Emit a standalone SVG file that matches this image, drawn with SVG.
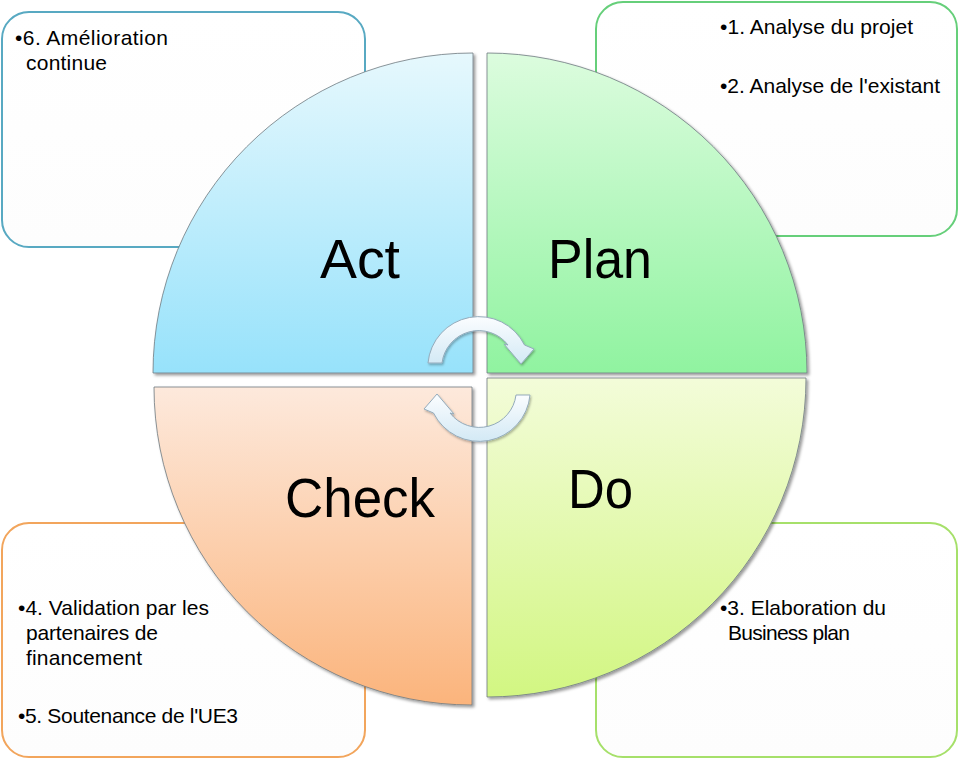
<svg xmlns="http://www.w3.org/2000/svg" width="959" height="759" viewBox="0 0 959 759">
  <defs>
    <linearGradient id="gAct" x1="0" y1="0" x2="0" y2="1">
      <stop offset="0" stop-color="#e6f8fd"/>
      <stop offset="1" stop-color="#97e2fb"/>
    </linearGradient>
    <linearGradient id="gPlan" x1="0" y1="0" x2="0" y2="1">
      <stop offset="0" stop-color="#dcfcde"/>
      <stop offset="1" stop-color="#90f3a0"/>
    </linearGradient>
    <linearGradient id="gDo" x1="0" y1="0" x2="0" y2="1">
      <stop offset="0" stop-color="#f3fcd9"/>
      <stop offset="1" stop-color="#d2f682"/>
    </linearGradient>
    <linearGradient id="gCheck" x1="0" y1="0" x2="0" y2="1">
      <stop offset="0" stop-color="#fde9dc"/>
      <stop offset="1" stop-color="#fbb47c"/>
    </linearGradient>
    <linearGradient id="gBox" x1="0" y1="0" x2="0" y2="1">
      <stop offset="0" stop-color="#ffffff"/>
      <stop offset="1" stop-color="#fdfdfd"/>
    </linearGradient>
    <linearGradient id="gArrow" x1="0" y1="0" x2="0" y2="1">
      <stop offset="0" stop-color="#fbfdff"/>
      <stop offset="1" stop-color="#d3e9f5"/>
    </linearGradient>
    <filter id="shadow" x="-10%" y="-10%" width="120%" height="120%">
      <feDropShadow dx="2" dy="2" stdDeviation="1.6" flood-color="#000" flood-opacity="0.4"/>
    </filter>
    <filter id="ashadow" x="-20%" y="-20%" width="140%" height="140%">
      <feDropShadow dx="1" dy="1.5" stdDeviation="1.2" flood-color="#000" flood-opacity="0.3"/>
    </filter>
  </defs>
  <style>
    .box { fill: url(#gBox); stroke-width: 2; }
    .sector { stroke: #6f7a80; stroke-width: 0.8; filter: url(#shadow); }
    .big { font-family: "Liberation Sans", Arial, sans-serif; font-size: 55px; fill: #000; }
    .txt { font-family: "Liberation Sans", Arial, sans-serif; font-size: 21px; fill: #000; }
    .arrow { fill: url(#gArrow); stroke: #94abbb; stroke-width: 1; filter: url(#ashadow); }
  </style>
  <rect width="959" height="759" fill="#ffffff"/>

  <g id="box-act">
    <rect class="box" x="2" y="12" width="363" height="235" rx="27" stroke="#58a9c2"/>
    <text class="txt" x="15" y="45" textLength="153">•6. Amélioration</text>
    <text class="txt" x="26" y="70" textLength="81">continue</text>
  </g>
  <g id="box-plan">
    <rect class="box" x="596" y="2" width="361" height="234" rx="27" stroke="#66cf7a"/>
    <text class="txt" x="720" y="34" textLength="193">•1. Analyse du projet</text>
    <text class="txt" x="720" y="93" textLength="220">•2. Analyse de l'existant</text>
  </g>
  <g id="box-check">
    <rect class="box" x="2" y="523" width="363" height="234" rx="27" stroke="#f2a55c"/>
    <text class="txt" x="18" y="615" textLength="191">•4. Validation par les</text>
    <text class="txt" x="26" y="640" textLength="132">partenaires de</text>
    <text class="txt" x="26" y="665" textLength="116">financement</text>
    <text class="txt" x="18" y="723" textLength="220">•5. Soutenance de l'UE3</text>
  </g>
  <g id="box-do">
    <rect class="box" x="596" y="523" width="361" height="234" rx="27" stroke="#a6e06a"/>
    <text class="txt" x="720" y="615" textLength="166">•3. Elaboration du</text>
    <text class="txt" x="728" y="640" textLength="122">Business plan</text>
  </g>

  <g id="node-act">
    <path class="sector" fill="url(#gAct)" d="M473,373 L153,373 A320,320 0 0 1 473,53 Z"/>
    <text class="big" x="320" y="278" textLength="80" lengthAdjust="spacingAndGlyphs">Act</text>
  </g>
  <g id="node-plan">
    <path class="sector" fill="url(#gPlan)" d="M487,373 L487,53 A320,320 0 0 1 807,373 Z"/>
    <text class="big" x="548" y="278" textLength="104" lengthAdjust="spacingAndGlyphs">Plan</text>
  </g>
  <g id="node-do">
    <path class="sector" fill="url(#gDo)" d="M487,378 L806,378 A319,319 0 0 1 487,697 Z"/>
    <text class="big" x="568" y="508" textLength="65" lengthAdjust="spacingAndGlyphs">Do</text>
  </g>
  <g id="node-check">
    <path class="sector" fill="url(#gCheck)" d="M472,387 L472,705 A318,318 0 0 1 154,387 Z"/>
    <text class="big" x="285" y="517" textLength="150" lengthAdjust="spacingAndGlyphs">Check</text>
  </g>

  <g id="connectors">
    <path class="arrow" d="M428,363 A51,51 0 0 1 524.5,345 L534,349 L521,364 L504,344 L508,345 A37,37 0 0 0 442,363 Z"/>
    <path class="arrow" d="M530,395 A51,51 0 0 1 433.5,413 L424,409 L437,394 L454,414 L450,413 A37,37 0 0 0 516,395 Z"/>
  </g>
</svg>
